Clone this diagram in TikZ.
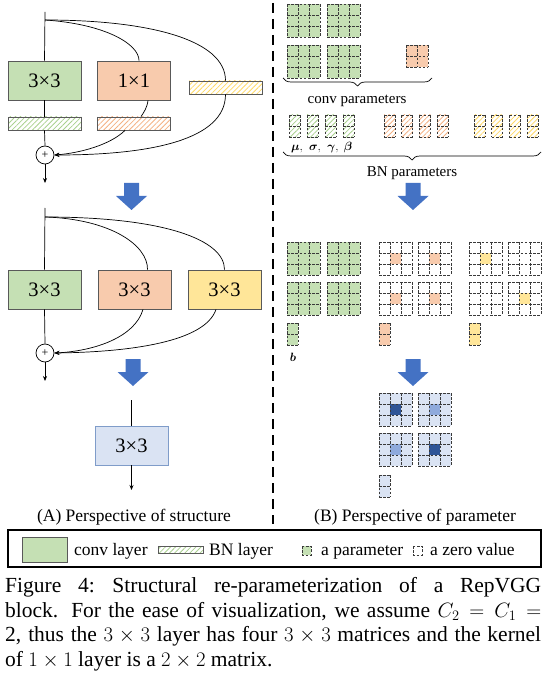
\documentclass[tikz,border=0pt]{standalone}
\usepackage{fontspec}
\setmainfont{Liberation Serif}
\usepackage{amsmath}
\usetikzlibrary{patterns.meta,decorations.pathreplacing,arrows.meta}
\definecolor{cgreen}{HTML}{C5E0B4}
\definecolor{corange}{HTML}{F8CBAD}
\definecolor{cyellow}{HTML}{FFE699}
\definecolor{cblue}{HTML}{DAE3F3}
\definecolor{hgreen}{HTML}{A9D18E}
\definecolor{horange}{HTML}{F4B183}
\definecolor{hyellow}{HTML}{FFD966}
\definecolor{arrowblue}{HTML}{4472C4}
\definecolor{dblue}{HTML}{2F5597}
\definecolor{mblue}{HTML}{8FAADC}
\definecolor{boxedge}{HTML}{595959}
\definecolor{blueedge}{HTML}{7F9CC9}
\definecolor{dashcol}{HTML}{3A3A3A}
\def\cellsz{11.1}
\newcommand\drawmat[6]{%
  \path[#5] (#1,#2) rectangle ++(#3*\cellsz,#4*\cellsz);
  \path[#6] (#1+\cellsz,#2+\cellsz) rectangle ++(\cellsz,\cellsz);
  \foreach \ii in {0,...,#3}{\draw[celldash] (#1+\ii*\cellsz,#2) -- ++(0,#4*\cellsz);}
  \foreach \jj in {0,...,#4}{\draw[celldash] (#1,#2+\jj*\cellsz) -- ++(#3*\cellsz,0);}
}
\newcommand\bluearrow[2]{%
  \fill[arrowblue] (#1-7.5,#2) -- (#1+7.5,#2) -- (#1+7.5,#2+13) -- (#1+15.5,#2+13)
    -- (#1,#2+27) -- (#1-15.5,#2+13) -- (#1-7.5,#2+13) -- cycle;
}
\begin{document}
\begin{tikzpicture}[x=1pt,y=-1pt,
  layerbox/.style={draw=boxedge, line width=0.9pt, minimum width=73pt, minimum height=39pt, inner sep=0pt, font=\fontsize{20.5}{24}\selectfont},
  bnlayer/.style={draw=boxedge, line width=0.8pt, minimum width=73pt, minimum height=13pt, inner sep=0pt},
  hatchg/.style={pattern={Lines[angle=45,distance=3.6pt,line width=0.8pt]}, pattern color=hgreen},
  hatcho/.style={pattern={Lines[angle=45,distance=3.6pt,line width=0.8pt]}, pattern color=horange},
  hatchy/.style={pattern={Lines[angle=45,distance=3.6pt,line width=0.8pt]}, pattern color=hyellow},
  plusnode/.style={circle, draw, line width=0.7pt, minimum size=18pt, inner sep=0pt, font=\fontsize{12}{12}\selectfont},
  conn/.style={line width=0.7pt},
  arr/.style={conn, -{Stealth[length=5pt,width=4pt]}},
  celldash/.style={draw=dashcol, line width=0.8pt, dash pattern=on 2.6pt off 1.6pt},
  brc/.style={decorate, decoration={brace, amplitude=8pt, mirror}, line width=0.7pt},
  lbl/.style={inner sep=0pt, font=\fontsize{17.5}{20}\selectfont},
  smalltext/.style={inner sep=0pt, font=\fontsize{15}{18}\selectfont},
  greektext/.style={inner sep=0pt, font=\fontsize{13}{15}\selectfont},
  captext/.style={inner sep=0pt, anchor=base west, font=\fontsize{21.5}{25}\selectfont},
]
\useasboundingbox (0,0) rectangle (553,692);

% ---------- left: original block ----------
\coordinate (in1) at (45,12);
\coordinate (br1) at (45,20);
\coordinate (out1) at (45,183);
\node[layerbox, fill=cgreen] (g1) at (44.5,80.5) {3×3};
\node[layerbox, fill=corange] (o1) at (134,80.5) {1×1};
\node[bnlayer, hatchy] (yb1) at (225.5,87.5) {};
\node[bnlayer, hatchg] (gb1) at (44.5,123.5) {};
\node[bnlayer, hatcho] (ob1) at (134,123.5) {};
\node[plusnode] (plus1) at (45,155) {+};
\draw[conn] (in1) -- (g1.north);
\draw[conn] (g1.south) -- (gb1.north);
\draw[conn] (gb1.south) -- (plus1.north);
\draw[arr] (plus1.south) -- (out1);
\draw[conn] (br1) .. controls (105,24) and (139,44) .. ([xshift=5pt]o1.north);
\draw[conn] (br1) .. controls (150,20) and (225.5,40) .. (yb1.north);
\draw[conn] ([xshift=14pt]o1.south) .. controls (147,108) and (144,112) .. ([xshift=7pt]ob1.north);
\draw[arr] ([xshift=-9pt]ob1.south) .. controls (110,145) and (80,153) .. (plus1.east);
\draw[arr] (yb1.south) .. controls (225.5,140) and (150,155) .. (plus1.east);

\bluearrow{131.5}{183}

% ---------- left: training-time block with 3x3 ----------
\coordinate (in2) at (45,208);
\coordinate (br2) at (45,217);
\coordinate (out2) at (45,381);
\node[layerbox, fill=cgreen] (g2) at (44.5,289.5) {3×3};
\node[layerbox, fill=corange] (o2) at (134.5,289.5) {3×3};
\node[layerbox, fill=cyellow] (y2) at (224.5,289.5) {3×3};
\node[plusnode] (plus2) at (45,353) {+};
\draw[conn] (in2) -- (g2.north);
\draw[conn] (g2.south) -- (plus2.north);
\draw[arr] (plus2.south) -- (out2);
\draw[conn] (br2) .. controls (110,219) and (148,245) .. ([xshift=13pt]o2.north);
\draw[conn] (br2) .. controls (165,217) and (224.5,240) .. (y2.north);
\draw[arr] ([xshift=8.5pt]o2.south) .. controls (135,337) and (95,351) .. (plus2.east);
\draw[arr] ([xshift=-8.5pt]y2.south) .. controls (205,342) and (130,352) .. (plus2.east);

\bluearrow{133}{359}

% ---------- left: fused ----------
\coordinate (in3) at (131.5,400);
\coordinate (out3) at (131.5,490);
\node[layerbox, fill=cblue, draw=blueedge] (b3) at (131.5,445.5) {3×3};
\draw[conn] (in3) -- (b3.north);
\draw[arr] (b3.south) -- (out3);

\node[lbl, anchor=base] (labA) at (134,521) {(A) Perspective of structure};

% ---------- divider ----------
\draw[line width=2.5pt, dash pattern=on 10pt off 6pt] (273,3) -- (273,524);

% ---------- right: conv parameters ----------
\drawmat{287}{4}{3}{3}{fill=cgreen}{fill=none}
\drawmat{327}{4}{3}{3}{fill=cgreen}{fill=none}
\drawmat{287}{45}{3}{3}{fill=cgreen}{fill=none}
\drawmat{327}{45}{3}{3}{fill=cgreen}{fill=none}
\drawmat{406}{45}{2}{2}{fill=corange}{fill=none}
\draw[brc] (283,78) -- (432,78);
\node[smalltext, anchor=base] (convp) at (357,104) {conv parameters};

% BN parameters
\foreach \xx in {289,307,325,343}{\drawmat{\xx}{115}{1}{2}{hatchg}{fill=none}}
\foreach \xx in {384,401.7,419.4,437}{\drawmat{\xx}{115}{1}{2}{hatcho}{fill=none}}
\foreach \xx in {474,491.7,509.4,527}{\drawmat{\xx}{115}{1}{2}{hatchy}{fill=none}}
\node[greektext, anchor=base] (mu) at (297,151) {$\boldsymbol{\mu},$};
\node[greektext, anchor=base] (sigma) at (315,151) {$\boldsymbol{\sigma},$};
\node[greektext, anchor=base] (gamma) at (333,151) {$\boldsymbol{\gamma},$};
\node[greektext, anchor=base] (beta) at (348,151) {$\boldsymbol{\beta}$};
\draw[brc] (283,152) -- (541,152);
\node[smalltext, anchor=base] (bnp) at (412,177) {BN parameters};

\bluearrow{413}{183}

% fused per-branch kernels
\drawmat{287}{242}{3}{3}{fill=cgreen}{fill=none}
\drawmat{327}{242}{3}{3}{fill=cgreen}{fill=none}
\drawmat{287}{282}{3}{3}{fill=cgreen}{fill=none}
\drawmat{327}{282}{3}{3}{fill=cgreen}{fill=none}
\drawmat{379}{242}{3}{3}{fill=white}{fill=corange}
\drawmat{418}{242}{3}{3}{fill=white}{fill=corange}
\drawmat{379}{282}{3}{3}{fill=white}{fill=corange}
\drawmat{418}{282}{3}{3}{fill=white}{fill=corange}
\drawmat{469}{242}{3}{3}{fill=white}{fill=cyellow}
\drawmat{508}{242}{3}{3}{fill=white}{fill=none}
\drawmat{469}{282}{3}{3}{fill=white}{fill=none}
\drawmat{508}{282}{3}{3}{fill=white}{fill=cyellow}
\drawmat{287}{323}{1}{2}{fill=cgreen}{fill=none}
\drawmat{379}{323}{1}{2}{fill=corange}{fill=none}
\drawmat{469}{323}{1}{2}{fill=cyellow}{fill=none}
\node[greektext, anchor=base] (bias) at (293,361) {$\boldsymbol{b}$};

\bluearrow{413}{359}

% final kernel
\drawmat{379}{393}{3}{3}{fill=cblue}{fill=dblue}
\drawmat{418}{393}{3}{3}{fill=cblue}{fill=mblue}
\drawmat{379}{433}{3}{3}{fill=cblue}{fill=mblue}
\drawmat{418}{433}{3}{3}{fill=cblue}{fill=dblue}
\drawmat{379}{475}{1}{2}{fill=cblue}{fill=none}

\node[lbl, anchor=base] (labB) at (415,521) {(B) Perspective of parameter};

% ---------- legend ----------
\draw[line width=1.8pt] (8,530) rectangle (541,567);
\draw[draw=boxedge, line width=0.8pt, fill=cgreen] (22,537) rectangle (67,562);
\node[lbl, anchor=base west] (lg1) at (74,555) {conv layer};
\draw[draw=boxedge, line width=0.6pt, hatchg] (158,546) rectangle (203,553);
\node[lbl, anchor=base west] (lg2) at (209,555) {BN layer};
\draw[celldash, fill=cgreen] (302,546) rectangle (311,555);
\node[lbl, anchor=base west] (lg3) at (321,555) {a parameter};
\draw[celldash] (413,546) rectangle (422,555);
\node[lbl, anchor=base west] (lg4) at (430,555) {a zero value};

% ---------- caption ----------
\node[captext] (c1) at (5,592) {\makebox[536pt][s]{Figure 4:\hskip 0.4em plus 0.1em Structural re-parameterization of a RepVGG}};
\node[captext] (c2) at (5,617) {\makebox[536pt][s]{block. For the ease of visualization, we assume $C_2 = C_1 =$}};
\node[captext] (c3) at (5,641.5) {\makebox[536pt][s]{2, thus the $3 \times 3$ layer has four $3 \times 3$ matrices and the kernel}};
\node[captext] (c4) at (5,666) {of $1 \times 1$ layer is a $2 \times 2$ matrix.};
\end{tikzpicture}
\end{document}
